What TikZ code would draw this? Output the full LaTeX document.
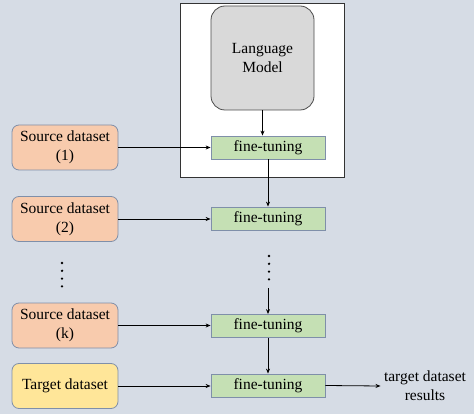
\documentclass[tikz,border=0pt]{standalone}
\usepackage{fontspec}
\setmainfont{Liberation Serif}
\newfontfamily\diagfont{Liberation Serif}
\usetikzlibrary{arrows.meta}
\definecolor{bgblue}{HTML}{D6DCE5}
\definecolor{srcfill}{HTML}{F8CBAD}
\definecolor{tgtfill}{HTML}{FFE699}
\definecolor{ftfill}{HTML}{C5E0B4}
\definecolor{lmfill}{HTML}{D9D9D9}
\definecolor{edgeblue}{HTML}{7F8FA9}
\begin{document}
\begin{tikzpicture}[x=1pt,y=-1pt,
  font=\diagfont\fontsize{15.5}{19}\selectfont,
  databox/.style={draw=edgeblue, line width=0.8pt, rounded corners=7pt, minimum width=106pt, minimum height=45pt, align=center, inner sep=0pt},
  ftbox/.style={draw=edgeblue, line width=0.8pt, fill=ftfill, minimum width=114pt, minimum height=23pt, inner sep=0pt},
  arr/.style={-{Stealth[length=5pt,width=4pt]}, line width=0.8pt}]
  \fill [bgblue] (0,0) rectangle (474,414);
  \draw [fill=white, line width=0.8pt, draw=black!80] (180,3) rectangle (344,177);
  \node [draw=black!70, line width=0.8pt, fill=lmfill, rounded corners=14pt, minimum width=103pt, minimum height=104pt, align=center, inner sep=0pt] (lm) at (262.5,58) {Language\\Model};
  % fine-tuning steps
  \node [ftbox] (ft1) at (268,147.5) {fine-tuning};
  \node [ftbox] (ft2) at (268,218.5) {fine-tuning};
  \node [ftbox] (ftk) at (268,326) {fine-tuning};
  \node [ftbox] (ftt) at (268,385.5) {fine-tuning};
  % datasets
  \node [databox, fill=srcfill] (src1) at (65,147.5) {Source dataset\\(1)};
  \node [databox, fill=srcfill] (src2) at (65,219) {Source dataset\\(2)};
  \node [databox, fill=srcfill] (srck) at (65,325.5) {Source dataset\\(k)};
  \node [databox, fill=tgtfill] (tgt) at (65,386) {Target dataset};
  \node [align=center] (res) at (425,386) {target dataset\\results};
  \foreach \i in {0,1,2,3}
  {
    \fill (62,{263+7.8*\i}) circle (1.3);
    \fill (269,{256+7.8*\i}) circle (1.3);
  }
  \coordinate (dotend) at (268,288);
  \draw [arr] (lm) -- (lm.south |- ft1.north);
  \draw [arr] (ft1) -- (ft2);
  \draw [arr] (dotend) -- (ftk.north);
  \draw [arr] (ftk) -- (ftt);
  \foreach \s/\f in {src1/ft1, src2/ft2, srck/ftk, tgt/ftt}
  {
    \draw [arr] (\s.east) -- (\s.east -| \f.west);
  }
  \draw [arr] (ftt.east) -- (res.west);
\end{tikzpicture}
\end{document}
